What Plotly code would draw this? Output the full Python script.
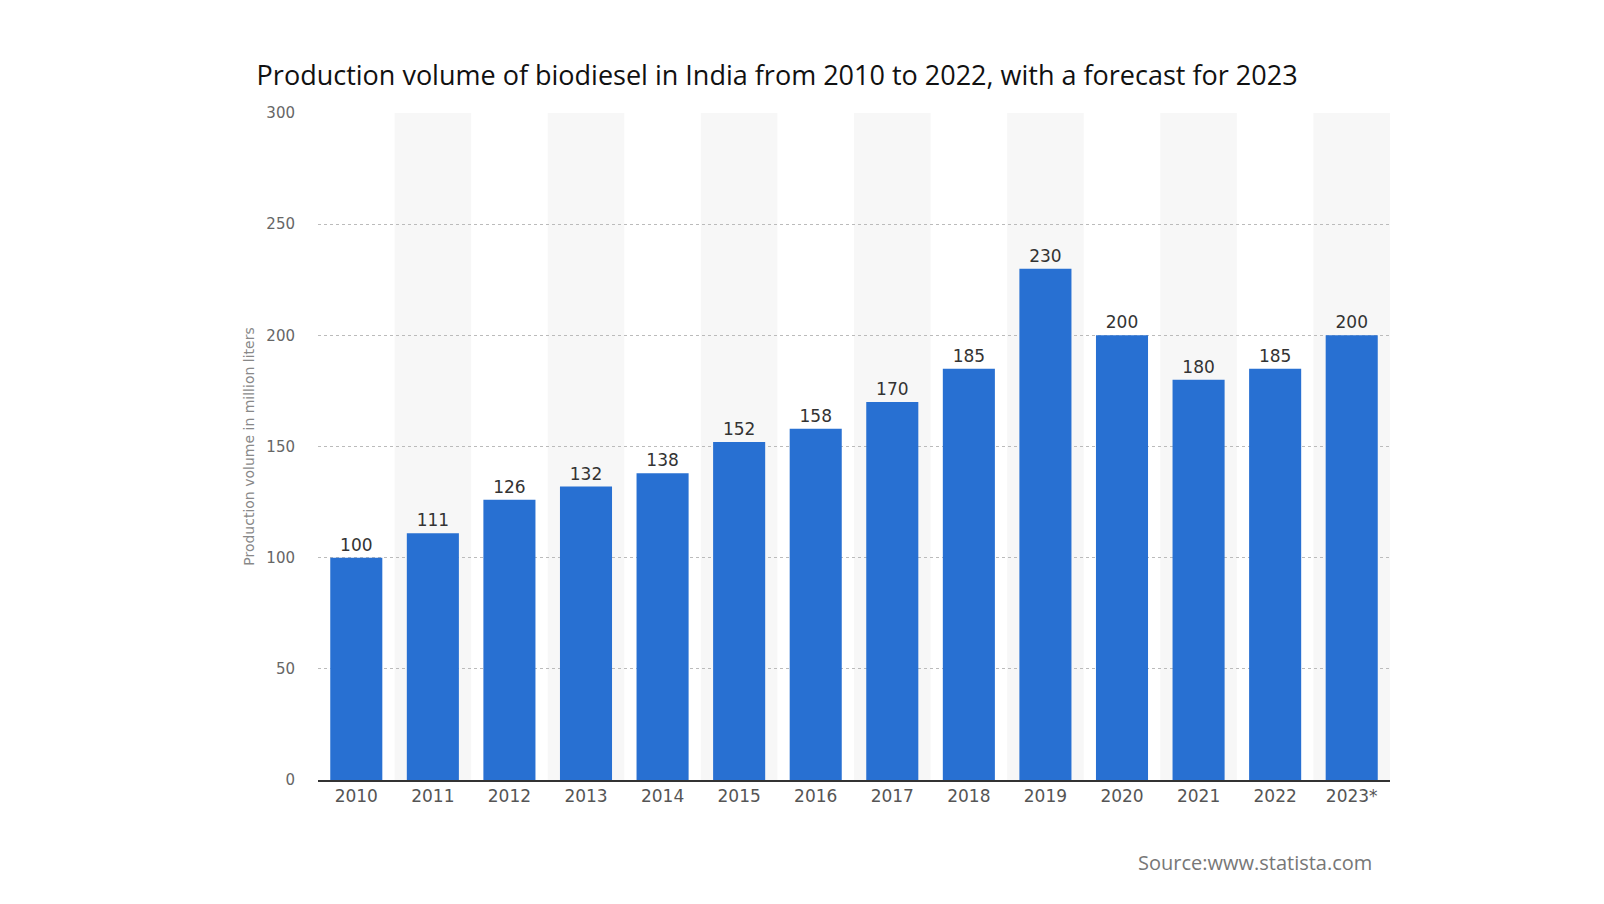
import plotly.graph_objects as go

years = ['2010', '2011', '2012', '2013', '2014', '2015', '2016',
         '2017', '2018', '2019', '2020', '2021', '2022', '2023*']
volume = [100, 111, 126, 132, 138, 152, 158, 170, 185, 230, 200, 180, 185, 200]

fig = go.Figure()

fig.add_trace(go.Bar(
    x=years, y=volume, width=0.68,
    marker=dict(color='#2870d2', line=dict(width=0)),
    text=volume, textposition='outside', cliponaxis=False,
    textfont=dict(family='DejaVu Sans', size=17, color='#333333'),
))

# alternating light column bands
for i in range(1, len(years), 2):
    fig.add_shape(type='rect', xref='x', yref='paper',
                  x0=i - 0.5, x1=i + 0.5, y0=0, y1=1,
                  fillcolor='#f7f7f7', line=dict(width=0), layer='below')

fig.update_layout(
    width=1604, height=904,
    paper_bgcolor='white', plot_bgcolor='white',
    margin=dict(l=310, r=222, t=105, b=132),
    showlegend=False,
    bargap=0.32,
    title=dict(text='Production volume of biodiesel in India from 2010 to 2022, with a forecast for 2023',
               x=0.155, xanchor='left', y=0.925, yanchor='middle',
               font=dict(family='Open Sans', size=27, color='#111111')),
    xaxis=dict(tickfont=dict(family='DejaVu Sans', size=17, color='#555555'),
               showline=True, linecolor='#333333', linewidth=2,
               ticks='', range=[-0.5, len(years) - 0.5]),
    yaxis=dict(range=[0, 300], dtick=50,
               tickfont=dict(family='DejaVu Sans', size=15, color='#666666'),
               gridcolor='#bbbbbb', griddash='dot', zeroline=False,
               ticklabelstandoff=22,
               title=dict(text='Production volume in million liters', standoff=8,
                          font=dict(family='DejaVu Sans', size=14, color='#888888'))),
    annotations=[dict(text='Source:www.statista.com', xref='paper', yref='paper',
                      x=0.985, y=-0.1, xanchor='right', yanchor='top', showarrow=False,
                      font=dict(family='Open Sans', size=20, color='#777777'))],
)

fig.write_html('out.html')
